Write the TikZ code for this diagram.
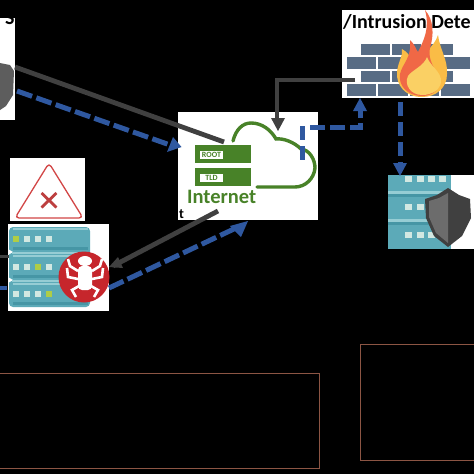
\documentclass[tikz,border=0pt]{standalone}
\usepackage{fontspec}
\setmainfont{Carlito}
\usetikzlibrary{arrows.meta}
\definecolor{lnk}{RGB}{47,88,160}
\definecolor{grayln}{RGB}{64,64,64}
\definecolor{grn}{RGB}{72,130,40}
\definecolor{teal1}{RGB}{92,170,184}
\definecolor{teal2}{RGB}{70,150,165}
\definecolor{teal3}{RGB}{150,205,212}
\definecolor{sq}{RGB}{210,232,226}
\definecolor{lime}{RGB}{175,205,70}
\definecolor{brick}{RGB}{88,108,132}
\definecolor{frame}{RGB}{140,85,68}
\definecolor{bugred}{RGB}{198,38,44}
\definecolor{warnred}{RGB}{210,70,70}
\definecolor{flameo}{RGB}{250,188,70}
\definecolor{flamer}{RGB}{240,104,70}
\definecolor{flamey}{RGB}{250,208,100}
\tikzset{
  x=1pt,y=-1pt,
  whitebox/.style={fill=white,draw=none},
  solidlink/.style={draw=grayln,line width=4.8pt},
  dashlink/.style={draw=lnk,line width=5pt,dash pattern=on 16pt off 4.5pt},
  tipfill/.style={fill=lnk,draw=none},
  bricks/.style={fill=brick,draw=none},
  framebox/.style={draw=frame,line width=1pt},
  sqr/.style={fill=sq,draw=none},
  limesq/.style={fill=lime,draw=none},
}
\begin{document}
\begin{tikzpicture}
\fill[black] (0,0) rectangle (474,474);
\useasboundingbox (0,0) rectangle (474,474);
% white panels
\fill[whitebox] (0,18) rectangle (15,120);
\fill[whitebox] (10,158) rectangle (85,221);
\fill[whitebox] (8,224) rectangle (109,311);
\fill[whitebox] (178,112) rectangle (318,220);
\fill[whitebox] (342,10) rectangle (474,98);
\fill[whitebox] (388,175) rectangle (474,249);
% top-left shield
\fill[grayln!85!white] (0,63) -- (10,65) -- (14,71) -- (13,95) -- (6,106) -- (0,110) -- cycle;
\node[inner sep=0pt,anchor=base west,text=black,font=\bfseries\fontsize{20}{20}\selectfont] (slabel) at (5,24.5) {S};
% warning triangle
\draw[draw=warnred,line width=1.3pt,line join=round,rounded corners=4pt] (49,163) -- (83,218) -- (15,218) -- cycle;
\draw[draw=warnred!90!black,line width=2.8pt] (41.5,193) -- (56.5,207.5) (56.5,193) -- (41.5,207.5);
% infected server
\fill[teal1,rounded corners=4pt] (9,227) rectangle (90,307);
\foreach \y in {227,254,282} \fill[teal3] (13,\y+1) rectangle (88,\y+3);
\foreach \y in {247,275,302} \fill[teal2] (13,\y) rectangle (88,\y+3);
\foreach \y in {252,280} {\fill[white] (8,\y-3) -- (13,\y) -- (8,\y+3) -- cycle; \fill[teal3] (12,\y) rectangle (90,\y+2);}
\foreach \y/\l in {239/0,267/2,294/3}{
  \foreach \x [count=\i from 0] in {16,27,38,49}{
    \ifnum\i=\l \fill[limesq] (\x-3.2,\y-3.2) rectangle ++(6.4,6.4);
    \else \fill[sqr] (\x-3.2,\y-3.2) rectangle ++(6.4,6.4); \fi
  }
}
\fill[bugred] (84,277) circle (25.5);
\fill[white] (85,261) ellipse (7 and 5);
\fill[white,rounded corners=4pt] (78,266) rectangle (92,290);
\draw[white,line width=2.6pt] (78,271) -- (70,266) -- (68,259) (92,271) -- (100,266) -- (102,259)
 (78,279) -- (68,277) -- (67,268) (92,279) -- (102,277) -- (103,268)
 (79,286) -- (72,290) -- (76,297) (91,286) -- (98,290) -- (94,297);
% internet
\fill[grn] (195,145) rectangle (251,163);
\fill[grn] (195,168) rectangle (251,186);
\fill[white] (200,150.5) rectangle (223,158.5);
\fill[white] (200,173.5) rectangle (223,181.5);
\node[inner sep=0pt,font=\bfseries\fontsize{8}{8}\selectfont,text=grn] (rootl) at (211.5,154.5) {ROOT};
\node[inner sep=0pt,font=\bfseries\fontsize{8}{8}\selectfont,text=grn] (tldl) at (211.5,177.5) {TLD};
\draw[grn,line width=3.4pt,line cap=round] (233,141) .. controls (236,129) and (243,123) .. (251,123) .. controls (262,123) and (271,130) .. (276,139) .. controls (283,138) and (294,142) .. (301,149) .. controls (310,150) and (315,160) .. (315,168) .. controls (314,179) and (305,187) .. (295,187) -- (257,187);
\node[inner sep=0pt,font=\bfseries\fontsize{20.5}{20.5}\selectfont,text=grn,anchor=base west] (inetl) at (187,203.5) {Internet};
\node[inner sep=0pt,font=\bfseries\fontsize{14}{14}\selectfont,text=black,anchor=base west] (tlabel) at (179,218) {t};
% firewall
\foreach \x/\y/\w in {361/43.5/29,392/43.5/29,423/43.5/30,347/57/29,378/57/30,410/57/29,441/57/29,361/70.5/29,392/70.5/29,423/70.5/30,347/84/29,378/84/30,410/84/29,441/84/29}
  \fill[bricks] (\x,\y) rectangle ++(\w,11.5);
\fill[flameo] (422,97) .. controls (405,97) and (396,85) .. (397,72) .. controls (398,62) and (403,56) .. (402,49) .. controls (408,52) and (411,58) .. (413,62) .. controls (420,56) and (434,48) .. (438,35) .. controls (440,50) and (448,60) .. (447,74) .. controls (447,88) and (436,97) .. (422,97) -- cycle;
\fill[flamer] (422,96) .. controls (408,96) and (398,86) .. (400,74) .. controls (402,64) and (412,58) .. (410,40) .. controls (416,46) and (416,50) .. (418,52) .. controls (424,40) and (430,28) .. (425,10) .. controls (434,20) and (434,35) .. (430,48) .. controls (428,56) and (432,66) .. (437,72) .. controls (444,82) and (438,96) .. (422,96) -- cycle;
\fill[flamey] (422,95) .. controls (410,95) and (404,84) .. (408,76) .. controls (412,70) and (424,66) .. (427,57) .. controls (430,66) and (442,72) .. (441,82) .. controls (440,90) and (432,95) .. (422,95) -- cycle;
\node[inner sep=0pt,anchor=base west,text=black,font=\bfseries\fontsize{20}{20}\selectfont] (idlabel) at (343,28) {/Intrusion Dete};
% shielded server
\fill[teal1] (388,175) rectangle (451,249);
\foreach \y in {191,219} {\fill[teal3] (388,\y) rectangle (451,\y+3); \fill[teal2] (388,\y+3) rectangle (451,\y+6);}
\foreach \y in {175,203,231}
  \foreach \x in {408,420,431,442} \fill[sqr] (\x-3,\y+0.5) rectangle ++(6.5,6.5);
\fill[grayln] (448,188) -- (459,195) -- (470,199) -- (471,218) -- (462,236) -- (448,247) -- (434,236) -- (426,218) -- (425,199) -- (437,195) -- cycle;
\fill[gray!85!black] (448,193) -- (448,243) -- (436,233) -- (429,217) -- (429,201) -- (439,198) -- cycle;
% connectors
\coordinate (a1) at (15,67); \coordinate (a2) at (224,142);
\draw[solidlink] (a1) -- (a2);
\coordinate (b1) at (17,91); \coordinate (b2) at (170,145);
\draw[dashlink] (b1) -- (b2);
\fill[tipfill] (181.5,147) -- (167,152) -- (173,137) -- cycle;
\coordinate (c1) at (218,211); \coordinate (c2) at (113,266);
\draw[solidlink] (c1) -- (c2);
\fill[grayln] (109,267) -- (118,257) -- (123,268) -- cycle;
\coordinate (d1) at (109,288); \coordinate (d2) at (236,228);
\draw[dashlink] (d1) -- (d2);
\fill[tipfill] (248,221) -- (241,237) -- (230,226) -- cycle;
\coordinate (e1) at (0,256.5); \coordinate (e2) at (9,256.5);
\draw[draw=grayln,line width=3pt] (e1) -- (e2);
\coordinate (f1) at (0,288); \coordinate (f2) at (7,288);
\draw[draw=lnk,line width=4pt] (f1) -- (f2);
\coordinate (g1) at (355,80); \coordinate (g2) at (277,80); \coordinate (g3) at (277,122);
\draw[solidlink] (g1) -- (g2) -- (g3);
\fill[grayln] (271,118) -- (285,118) -- (278,131) -- cycle;
\coordinate (h0) at (302,126); \coordinate (h4) at (302,160);
\draw[draw=lnk,line width=5pt,dash pattern=on 14pt off 6pt] (h0) -- (h4);
\coordinate (h1) at (310,127.5); \coordinate (h2) at (360,127.5); \coordinate (h3) at (360,109);
\draw[dashlink,dash pattern=on 15pt off 5pt] (h1) -- (h2) -- (h3);
\fill[tipfill] (360,98) -- (367,111) -- (353,111) -- cycle;
\coordinate (i1) at (400,102); \coordinate (i2) at (400,166);
\draw[dashlink,dash pattern=on 14pt off 6pt] (i1) -- (i2);
\fill[tipfill] (393,163) -- (407,163) -- (400,176) -- cycle;
% bottom frames
\draw[framebox] (-2,373) -- (319,373) -- (319,468) -- (-2,468);
\draw[framebox] (476,344) -- (360,344) -- (360,460) -- (476,460);
\end{tikzpicture}
\end{document}
